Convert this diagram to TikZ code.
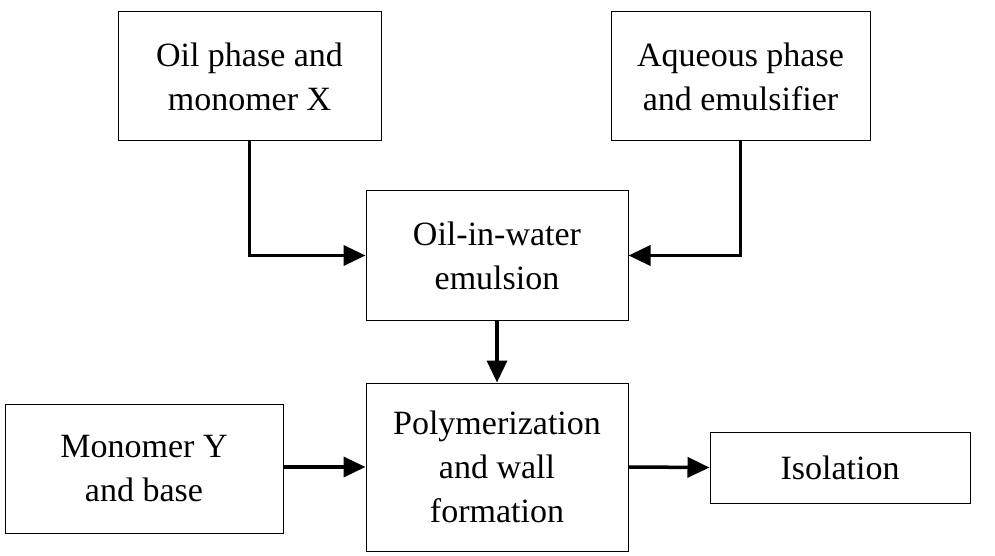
\documentclass[tikz,border=0pt]{standalone}
\usepackage{fontspec}
\setmainfont{Liberation Serif}
\usetikzlibrary{arrows.meta, positioning}

\begin{document}
\begin{tikzpicture}[
  x=1pt, y=-1pt,
  stage/.style={rectangle, draw, line width=1pt, align=center, inner sep=0pt, font=\fontsize{34}{44}\selectfont},
  arrow/.style={-{Triangle[length=22pt, width=20pt]}, line width=3.5pt}
]
\useasboundingbox (0,0) rectangle (995,556);

% Nodes
\node[stage, minimum width=263pt, minimum height=129pt] (oil) at (249.5,76.5) {Oil phase and\\monomer X};
\node[stage, minimum width=259pt, minimum height=129pt] (aq) at (740.5,76.5) {Aqueous phase\\and emulsifier};
\node[stage, minimum width=262pt, minimum height=129pt] (emul) at (497,255.5) {Oil-in-water\\emulsion};
\node[stage, minimum width=262pt, minimum height=168pt] (poly) at (497,467) {Polymerization\\and wall\\formation};
\node[stage, minimum width=278pt, minimum height=129pt] (monY) at (144,468.5) {Monomer Y\\and base};
\node[stage, minimum width=260pt, minimum height=71pt] (iso) at (840,467.5) {Isolation};

% Arrows
\draw[arrow] (oil.south) |- (emul.west);
\draw[arrow] (aq.south) |- (emul.east);
\draw[arrow] (emul.south) -- (poly.north);
\draw[arrow] (monY.east |- poly.west) -- (poly.west);
\draw[arrow] (poly.east) -- (iso.west);

\end{tikzpicture}
\end{document}
